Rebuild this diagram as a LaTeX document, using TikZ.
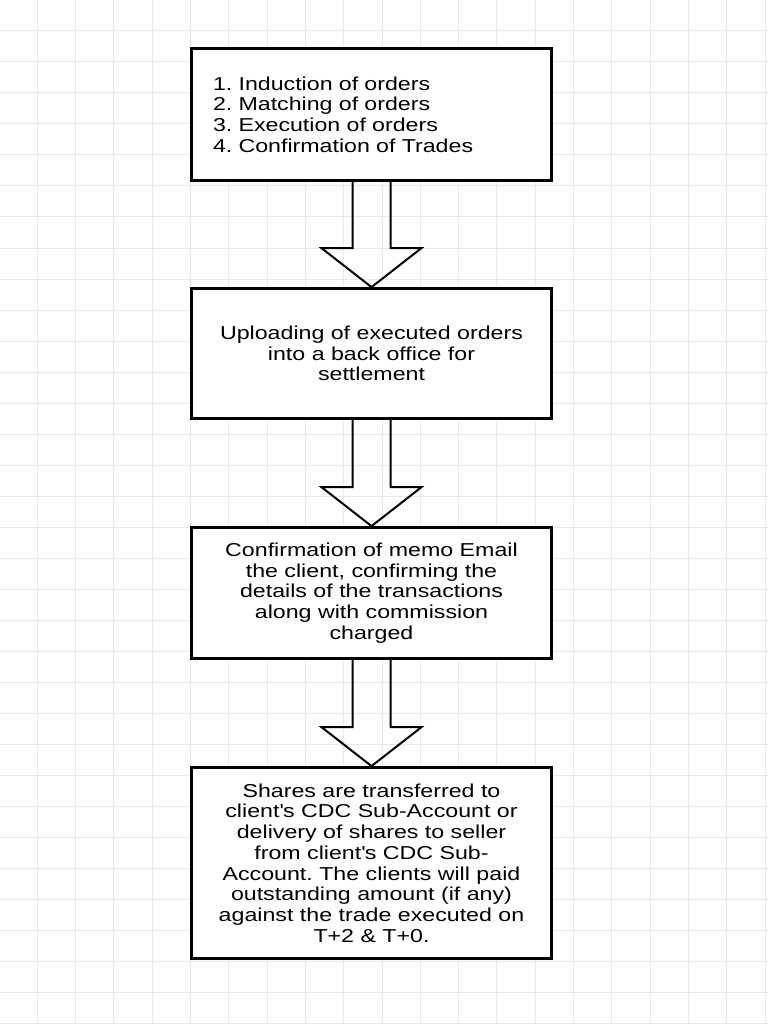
\documentclass[tikz,border=0pt]{standalone}
\usepackage{fontspec}
\setmainfont{Liberation Sans}[FakeStretch=1.24]
\usepackage{tikz}
\usetikzlibrary{calc}
\frenchspacing
\tikzstyle{stage} = [draw, fill=white, line width=2.8pt, minimum width=360pt, inner sep=0pt, align=center, font=\fontsize{18.7}{20.7}\selectfont]
\tikzstyle{blockarrow} = [draw, line width=2pt, line join=miter]
\tikzstyle{gridline} = [draw, black!9, line width=1pt]

\begin{document}
\begin{tikzpicture}[x=1pt,y=-1pt]

    \useasboundingbox[fill=white] (0,0) rectangle (768,1024);

    % background grid
    \foreach \k in {1,...,20}
      \draw[gridline] (38.3*\k-1,0) -- (38.3*\k-1,1024);
    \foreach \k in {1,...,33}
      \draw[gridline] (0,31*\k) -- (768,31*\k);

    %=====================

    \node[stage, minimum height=132pt, text width=317pt, align=left] at (371.5,114.5) (s1) {1. Induction of orders\\2. Matching of orders\\3. Execution of orders\\4. Confirmation of Trades};

    \node[stage, minimum height=130pt] at (371.5,353.5) (s2) {Uploading of executed orders\\into a back office for\\settlement};

    \node[stage, minimum height=131pt] at (371.5,593) (s3) {Confirmation of memo Email\\the client, confirming the\\details of the transactions\\along with commission\\charged};

    \node[stage, minimum height=191pt] at (371.5,863) (s4) {Shares are transferred to\\client\textquotesingle s CDC Sub-Account or\\delivery of shares to seller\\from client\textquotesingle s CDC Sub-\\Account. The clients will paid\\outstanding amount (if any)\\against the trade executed on\\T+2 \& T+0.};

    %=====================

    \draw[blockarrow] ($(s1.south)+(-19,0)$) -- ($(s2.north)+(-19,-39)$) -- ($(s2.north)+(-50,-39)$) -- (s2.north)
      -- ($(s2.north)+(50,-39)$) -- ($(s2.north)+(19,-39)$) -- ($(s1.south)+(19,0)$);

    \draw[blockarrow] ($(s2.south)+(-19,0)$) -- ($(s3.north)+(-19,-39)$) -- ($(s3.north)+(-50,-39)$) -- (s3.north)
      -- ($(s3.north)+(50,-39)$) -- ($(s3.north)+(19,-39)$) -- ($(s2.south)+(19,0)$);

    \draw[blockarrow] ($(s3.south)+(-19,0)$) -- ($(s4.north)+(-19,-39)$) -- ($(s4.north)+(-50,-39)$) -- (s4.north)
      -- ($(s4.north)+(50,-39)$) -- ($(s4.north)+(19,-39)$) -- ($(s3.south)+(19,0)$);

\end{tikzpicture}
\end{document}
